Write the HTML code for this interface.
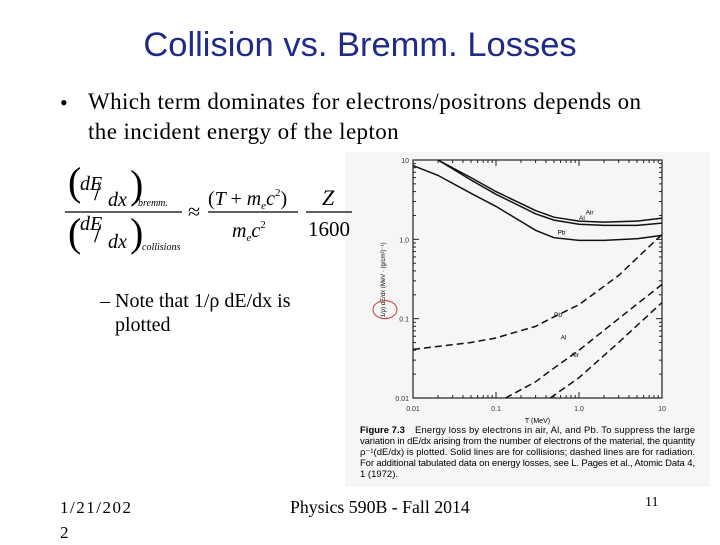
<!DOCTYPE html>
<html><head><meta charset="utf-8"><style>
body{margin:0;width:720px;height:540px;background:#fff;position:relative;overflow:hidden;font-family:"Liberation Serif",serif}
.a{position:absolute;margin:0}
</style></head><body>
<div class="a" style="left:0;width:720px;top:26px;text-align:center;font:34.5px 'Liberation Sans',sans-serif;color:#1f2b86">Collision vs. Bremm. Losses</div>
<div class="a" style="left:60px;top:88px;font-size:22px;line-height:30px">•</div>
<div class="a" style="left:88px;top:87px;font-size:23px;line-height:30px;white-space:nowrap;letter-spacing:0.4px">Which term dominates for electrons/positrons depends on<br>the incident energy of the lepton</div>
<svg class="a" id="chart" style="left:345px;top:152px" width="365" height="335" font-family="Liberation Sans">
<rect width="365" height="335" fill="#f6f6f6"/>
<g id="plot"></g>
<text x="15" y="281" font-size="9.5" font-weight="bold">Figure 7.3</text>
<text x="70" y="281" font-size="9.5" textLength="280">Energy loss by electrons in air, Al, and Pb. To suppress the large</text>
<text x="15" y="292" font-size="9.5" textLength="335">variation in dE/dx arising from the number of electrons of the material, the quantity</text>
<text x="15" y="303" font-size="9.5" textLength="335">ρ⁻¹(dE/dx) is plotted. Solid lines are for collisions; dashed lines are for radiation.</text>
<text x="15" y="314" font-size="9.5" textLength="335">For additional tabulated data on energy losses, see L. Pages et al., Atomic Data 4,</text>
<text x="15" y="325" font-size="9.5">1 (1972).</text>
</svg>
<svg class="a" style="left:60px;top:160px" width="300" height="100" font-family="Liberation Serif" font-style="italic">
<text x="8" y="35" font-size="40" font-style="normal">(</text><text x="20" y="30" font-size="20">dE</text><text x="34" y="40" font-size="26" font-style="normal">/</text><text x="48" y="46" font-size="20">dx</text><text x="70" y="38" font-size="40" font-style="normal">)</text><text x="78" y="46" font-size="10">bremm.</text>
<line x1="5" y1="52" x2="122" y2="52" stroke="#000" stroke-width="1.2"/>
<text x="8" y="86" font-size="40" font-style="normal">(</text><text x="20" y="70" font-size="20">dE</text><text x="34" y="82" font-size="26" font-style="normal">/</text><text x="48" y="88" font-size="20">dx</text><text x="70" y="86" font-size="40" font-style="normal">)</text><text x="82" y="90" font-size="10">collisions</text>
<text x="128" y="59" font-size="22" font-style="normal">≈</text>
<text x="148" y="45" font-size="20"><tspan font-style="normal">(</tspan>T <tspan font-style="normal">+</tspan> m<tspan font-size="11" dy="4">e</tspan><tspan dy="-4">c</tspan><tspan font-size="11" dy="-9" font-style="normal">2</tspan><tspan dy="9" font-style="normal">)</tspan></text>
<line x1="148" y1="52" x2="238" y2="52" stroke="#000" stroke-width="1.2"/>
<text x="172" y="77" font-size="20">m<tspan font-size="11" dy="4">e</tspan><tspan dy="-4">c</tspan><tspan font-size="11" dy="-9" font-style="normal">2</tspan></text>
<text x="262" y="45" font-size="22">Z</text>
<line x1="246" y1="52" x2="292" y2="52" stroke="#000" stroke-width="1.2"/>
<text x="248" y="76" font-size="21" font-style="normal">1600</text>
</svg>
<div class="a" style="left:100px;top:289px;font-size:20px;line-height:24px;white-space:nowrap">– Note that 1/ρ dE/dx is<br>&nbsp;&nbsp;&nbsp;plotted</div>
<div class="a" style="left:60px;top:495px;font-size:17px;line-height:25px;letter-spacing:1.5px">1/21/202<br>2</div>
<div class="a" style="left:290px;top:497px;font-size:17.8px;white-space:nowrap">Physics 590B - Fall 2014</div>
<div class="a" style="left:645px;top:495px;font-size:14px">11</div>
<script>
const collT=[0.01,0.02,0.05,0.1,0.3,0.5,1,2,5,10];
const collAir=[null,10,6,4,2.3,1.9,1.7,1.65,1.7,1.85];
const collAl=[null,10,5.6,3.7,2.1,1.75,1.55,1.5,1.5,1.6];
const collPb=[8.5,6.4,3.8,2.6,1.3,1.05,0.97,0.97,1.02,1.12];
const bremT=[0.01,0.05,0.1,0.13,0.3,0.45,1,3,10];
const bremPb=[0.041,0.05,0.057,0.062,0.08,0.1,0.15,0.35,1.15];
const bremAl=[null,null,null,0.01,0.016,0.022,0.04,0.1,0.27];
const bremAir=[null,null,null,null,null,0.01,0.018,0.05,0.16];
const xTicks=["0.01","0.1","1.0","10"];
const yTicks=["0.01","0.1","1.0","10"];
const NS="http://www.w3.org/2000/svg";
const g=document.getElementById('plot');
const X0=68,X1=317,Y0=246,Y1=8;
const xs=v=>X0+(Math.log10(v)+2)/3*(X1-X0);
const ys=v=>Y0-(Math.log10(v)+2)/3*(Y0-Y1);
function mk(t,a){const e=document.createElementNS(NS,t);for(const k in a)e.setAttribute(k,a[k]);g.appendChild(e);return e;}
const fr=mk('rect',{x:X0,y:Y1,width:X1-X0,height:Y0-Y1,fill:'none',stroke:'#222','stroke-width':1.2});


for(let d=0;d<3;d++)for(let m=1;m<10;m++){const v=Math.pow(10,d-2)*m;const L=m==1?6:3;
mk('line',{x1:xs(v),x2:xs(v),y1:Y0,y2:Y0-L,stroke:'#222'});mk('line',{x1:xs(v),x2:xs(v),y1:Y1,y2:Y1+L,stroke:'#222'});
mk('line',{y1:ys(v),y2:ys(v),x1:X0,x2:X0+L,stroke:'#222'});mk('line',{y1:ys(v),y2:ys(v),x1:X1,x2:X1-L,stroke:'#222'});}
xTicks.forEach(t=>{const e=mk('text',{x:xs(+t),y:Y0+13,'font-size':7,'text-anchor':'middle',fill:'#333'});e.textContent=t;

});
yTicks.forEach(t=>{const e=mk('text',{x:X0-4,y:ys(+t)+3,'font-size':7,'text-anchor':'end',fill:'#333'});e.textContent=t;

});
const xt=mk('text',{x:(X0+X1)/2,y:Y0+25,'font-size':7,'text-anchor':'middle'});xt.textContent='T (MeV)';


const yt=mk('text',{x:0,y:0,'font-size':6,'text-anchor':'middle',transform:`translate(${X0-28},${ys(0.3)}) rotate(-90)`});yt.textContent='(1/ρ) dE/dx  (MeV · (g/cm²)⁻¹)';


mk('ellipse',{cx:X0-28,cy:ys(0.13),rx:12,ry:9,fill:'none',stroke:'#c33','stroke-width':1});
function line(T,V,dash,name){let d='';T.forEach((t,i)=>{if(V[i]==null)return;d+=(d?'L':'M')+xs(t).toFixed(1)+','+Math.max(Y1,ys(V[i])).toFixed(1);});
const p=mk('path',{d,fill:'none',stroke:'#111','stroke-width':1.5,'stroke-dasharray':dash?'7,4':'none'});

}
line(collT,collAir,false,'collision-air-line');line(collT,collAl,false,'collision-al-line');line(collT,collPb,false,'collision-pb-line');
line(bremT,bremPb,true,'brem-pb-line');line(bremT,bremAl,true,'brem-al-line');line(bremT,bremAir,true,'brem-air-line');
[['Air',1.2,2.05],['Al',1.0,1.75],['Pb',0.55,1.15],['Pb',0.5,0.105],['Al',0.6,0.055],['Air',0.8,0.033]].forEach(l=>{
const e=mk('text',{x:xs(l[1]),y:ys(l[2]),'font-size':6.5});e.textContent=l[0];

});
</script>
</body></html>
